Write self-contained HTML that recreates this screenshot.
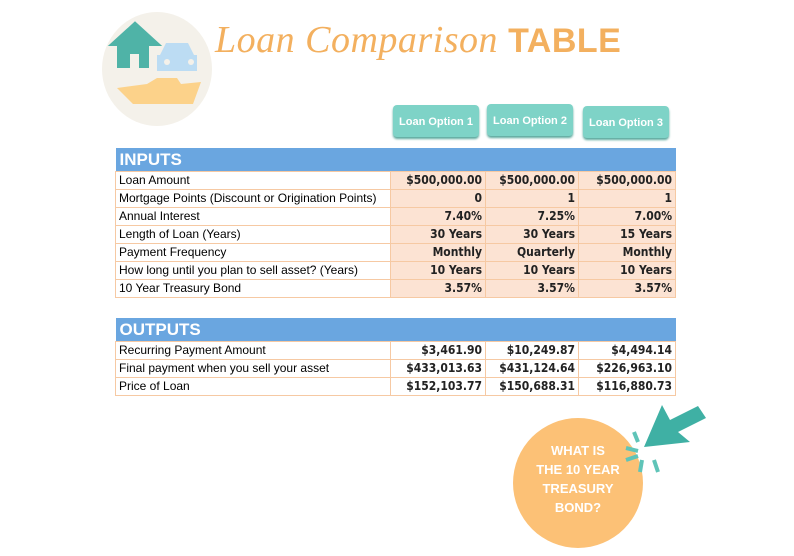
<!DOCTYPE html>
<html><head><meta charset="utf-8"><style>
body{margin:0;width:794px;height:556px;background:#fff;position:relative;overflow:hidden;font-family:"Liberation Sans",Arial,sans-serif}
.a{position:absolute}
table{position:absolute;border-collapse:collapse;left:115px;width:560px;table-layout:fixed}
td{height:17px;padding:0 3px;font-size:12px;border:1px solid #f6c9a3;white-space:nowrap;overflow:hidden;line-height:17px}
td.v{background:#fce3d3;text-align:right;font-weight:bold;font-family:"DejaVu Sans Condensed","Liberation Sans Narrow",sans-serif;font-size:12px;color:#222}
td.w{text-align:right;font-weight:bold;font-family:"DejaVu Sans Condensed",sans-serif;font-size:12px;color:#222}
th{background:#6aa6e0;color:#fff;text-align:left;font-size:17px;height:23px;padding:0 4px;font-weight:bold}
.btn{position:absolute;top:105px;height:32px;width:86px;background:#7ed3c7;border-radius:4px;box-shadow:0 2px 2px #5aa89d;color:#fff;font-weight:bold;font-size:11px;text-align:center;line-height:34px}
</style></head><body>
<div class="a" style="left:102px;top:12px;width:110px;height:114px;border-radius:50%;background:#f4f1ea"></div>
<svg class="a" style="left:105px;top:20px" width="110" height="100">
<polygon points="12,22 30,6 48,22 44,22 44,48 12,48 12,22" fill="#4fb3a7"/>
<polygon points="8,24 30,4 52,24" fill="none" stroke="#4fb3a7" stroke-width="4"/>
<rect x="25" y="34" width="9" height="14" fill="#f4f1ea"/>
<path d="M55,35 l6,-12 h22 l6,12 h3 v16 h-40 v-16z" fill="#bcdcf3"/>
<circle cx="62" cy="42" r="3" fill="#f4f1ea"/><circle cx="86" cy="42" r="3" fill="#f4f1ea"/>
<path d="M12,68 l30,-4 l10,-6 h20 l4,6 l20,-2 l-8,22 h-60z" fill="#fcd28a"/>
</svg>
<div class="a" style="left:215px;top:18px;font-family:'Liberation Serif',serif;font-style:italic;font-size:38px;color:#f3b05f;letter-spacing:0.5px">Loan Comparison <span style="font-family:'Liberation Sans',sans-serif;font-style:normal;font-weight:bold;font-size:34px">TABLE</span></div>
<div class="btn" style="left:393px">Loan Option 1</div>
<div class="btn" style="left:487px;top:104px">Loan Option 2</div>
<div class="btn" style="left:583px;top:106px">Loan Option 3</div>
<table style="top:148px">
<colgroup><col style="width:275px"><col style="width:95px"><col style="width:93px"><col style="width:97px"></colgroup>
<tr><th colspan="4">INPUTS</th></tr>
<tr><td>Loan Amount</td><td class="v">$500,000.00</td><td class="v">$500,000.00</td><td class="v">$500,000.00</td></tr>
<tr><td>Mortgage Points (Discount or Origination Points)</td><td class="v">0</td><td class="v">1</td><td class="v">1</td></tr>
<tr><td>Annual Interest</td><td class="v">7.40%</td><td class="v">7.25%</td><td class="v">7.00%</td></tr>
<tr><td>Length of Loan (Years)</td><td class="v">30 Years</td><td class="v">30 Years</td><td class="v">15 Years</td></tr>
<tr><td>Payment Frequency</td><td class="v">Monthly</td><td class="v">Quarterly</td><td class="v">Monthly</td></tr>
<tr><td>How long until you plan to sell asset? (Years)</td><td class="v">10 Years</td><td class="v">10 Years</td><td class="v">10 Years</td></tr>
<tr><td>10 Year Treasury Bond</td><td class="v">3.57%</td><td class="v">3.57%</td><td class="v">3.57%</td></tr>
</table>
<table style="top:318px">
<colgroup><col style="width:275px"><col style="width:95px"><col style="width:93px"><col style="width:97px"></colgroup>
<tr><th colspan="4">OUTPUTS</th></tr>
<tr><td>Recurring Payment Amount</td><td class="w">$3,461.90</td><td class="w">$10,249.87</td><td class="w">$4,494.14</td></tr>
<tr><td>Final payment when you sell your asset</td><td class="w">$433,013.63</td><td class="w">$431,124.64</td><td class="w">$226,963.10</td></tr>
<tr><td>Price of Loan</td><td class="w">$152,103.77</td><td class="w">$150,688.31</td><td class="w">$116,880.73</td></tr>
</table>
<div class="a" style="left:513px;top:418px;width:130px;height:130px;border-radius:50%;background:#fcc176"></div>
<div class="a" style="left:513px;top:441px;width:130px;text-align:center;color:#fff;font-weight:bold;font-size:13px;line-height:19px">WHAT IS<br>THE 10 YEAR<br>TREASURY<br>BOND?</div>
<svg class="a" style="left:620px;top:400px" width="90" height="80">
<polygon points="24,47 42,5 50,20 78,6 86,18 58,32 70,42" fill="#3fb0a4"/>
<g stroke="#5fc4b8" stroke-width="4"><line x1="14" y1="32" x2="18" y2="42"/><line x1="6" y1="48" x2="18" y2="51"/><line x1="6" y1="60" x2="18" y2="56"/><line x1="22" y1="60" x2="20" y2="72"/><line x1="34" y1="60" x2="38" y2="72"/></g>
</svg>
</body></html>
